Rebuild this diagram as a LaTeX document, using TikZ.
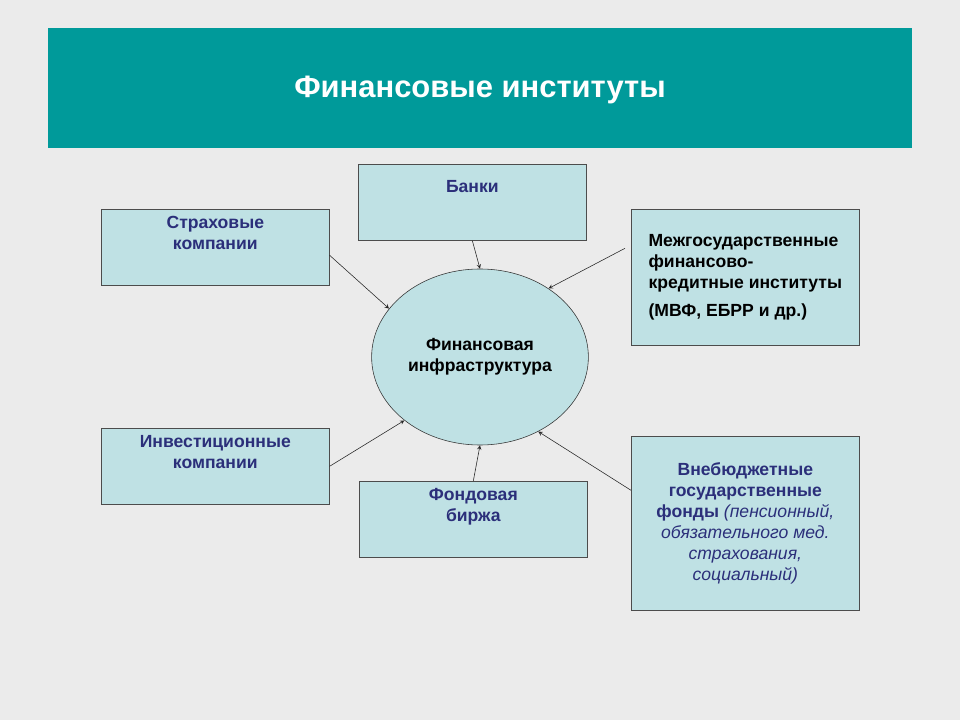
\documentclass[tikz,border=0pt]{standalone}
\usepackage{fontspec}
\setmainfont{Liberation Sans}
\usetikzlibrary{shapes.geometric}
\definecolor{bgray}{HTML}{EBEBEB}
\definecolor{teal1}{HTML}{009A9A}
\definecolor{boxblue}{HTML}{BFE1E4}
\definecolor{txtblue}{HTML}{2B2F7A}
\tikzset{
  box/.style={shape=rectangle, draw=black!70, fill=boxblue, anchor=north west, align=center, font=\bfseries\fontsize{12.5}{15}\selectfont, inner sep=2pt},
  arr/.style={->, >=stealth, black!85}
}
\begin{document}
\begin{tikzpicture}[x=0.025cm, y=-0.025cm]
\fill[bgray] (0,0) rectangle (960,720);
\useasboundingbox (0,0) rectangle (960,720);
\fill[teal1] (48,28) rectangle (912,148);
\node [text=white, font=\bfseries\fontsize{22}{26}\selectfont] (title) at (480,90) {Финансовые институты};

\node [box, minimum width=5.7cm, minimum height=1.9cm, text=txtblue] (banki) at (358,164) {Банки\\[8pt]};
\node [box, minimum width=5.7cm, minimum height=1.9cm, text=txtblue] (strah) at (101,209) {Страховые\\компании\\[6pt]};
\node [box, minimum width=5.7cm, minimum height=3.4cm, align=left, text=black] (mezh) at (631,209) {Межгосударственные\\финансово-\\кредитные институты\\[5pt](МВФ, ЕБРР и др.)};
\node [box, minimum width=5.7cm, minimum height=1.9cm, text=txtblue] (invest) at (101,428) {Инвестиционные\\компании\\[6pt]};
\node [box, minimum width=5.7cm, minimum height=1.9cm, text=txtblue] (fond) at (359,481) {Фондовая\\биржа\\[6pt]};
\node [box, minimum width=5.7cm, minimum height=4.35cm, text=txtblue] (vneb) at (631,436) {Внебюджетные\\государственные\\фонды \textmd{\itshape(пенсионный,}\\\textmd{\itshape обязательного мед.}\\\textmd{\itshape страхования,}\\\textmd{\itshape социальный)}};
\node [shape=ellipse, draw=black!80, fill=boxblue, minimum width=5.3cm, minimum height=4.4cm, font=\bfseries\fontsize{12.5}{15}\selectfont, align=center] (infra) at (480,357) {Финансовая\\инфраструктура};

\draw[arr] (banki.south) -- (infra.north);
\draw[arr] ([shift={(0,8)}]strah.east) -- (infra.152);
\draw[arr] ([shift={(-6,-29)}]mezh.west) -- (infra.45);
\draw[arr] (invest.east) -- (infra.220);
\draw[arr] (fond.north) -- (infra.south);
\draw[arr] ([shift={(0,-33)}]vneb.west) -- (infra.-52);
\end{tikzpicture}
\end{document}
